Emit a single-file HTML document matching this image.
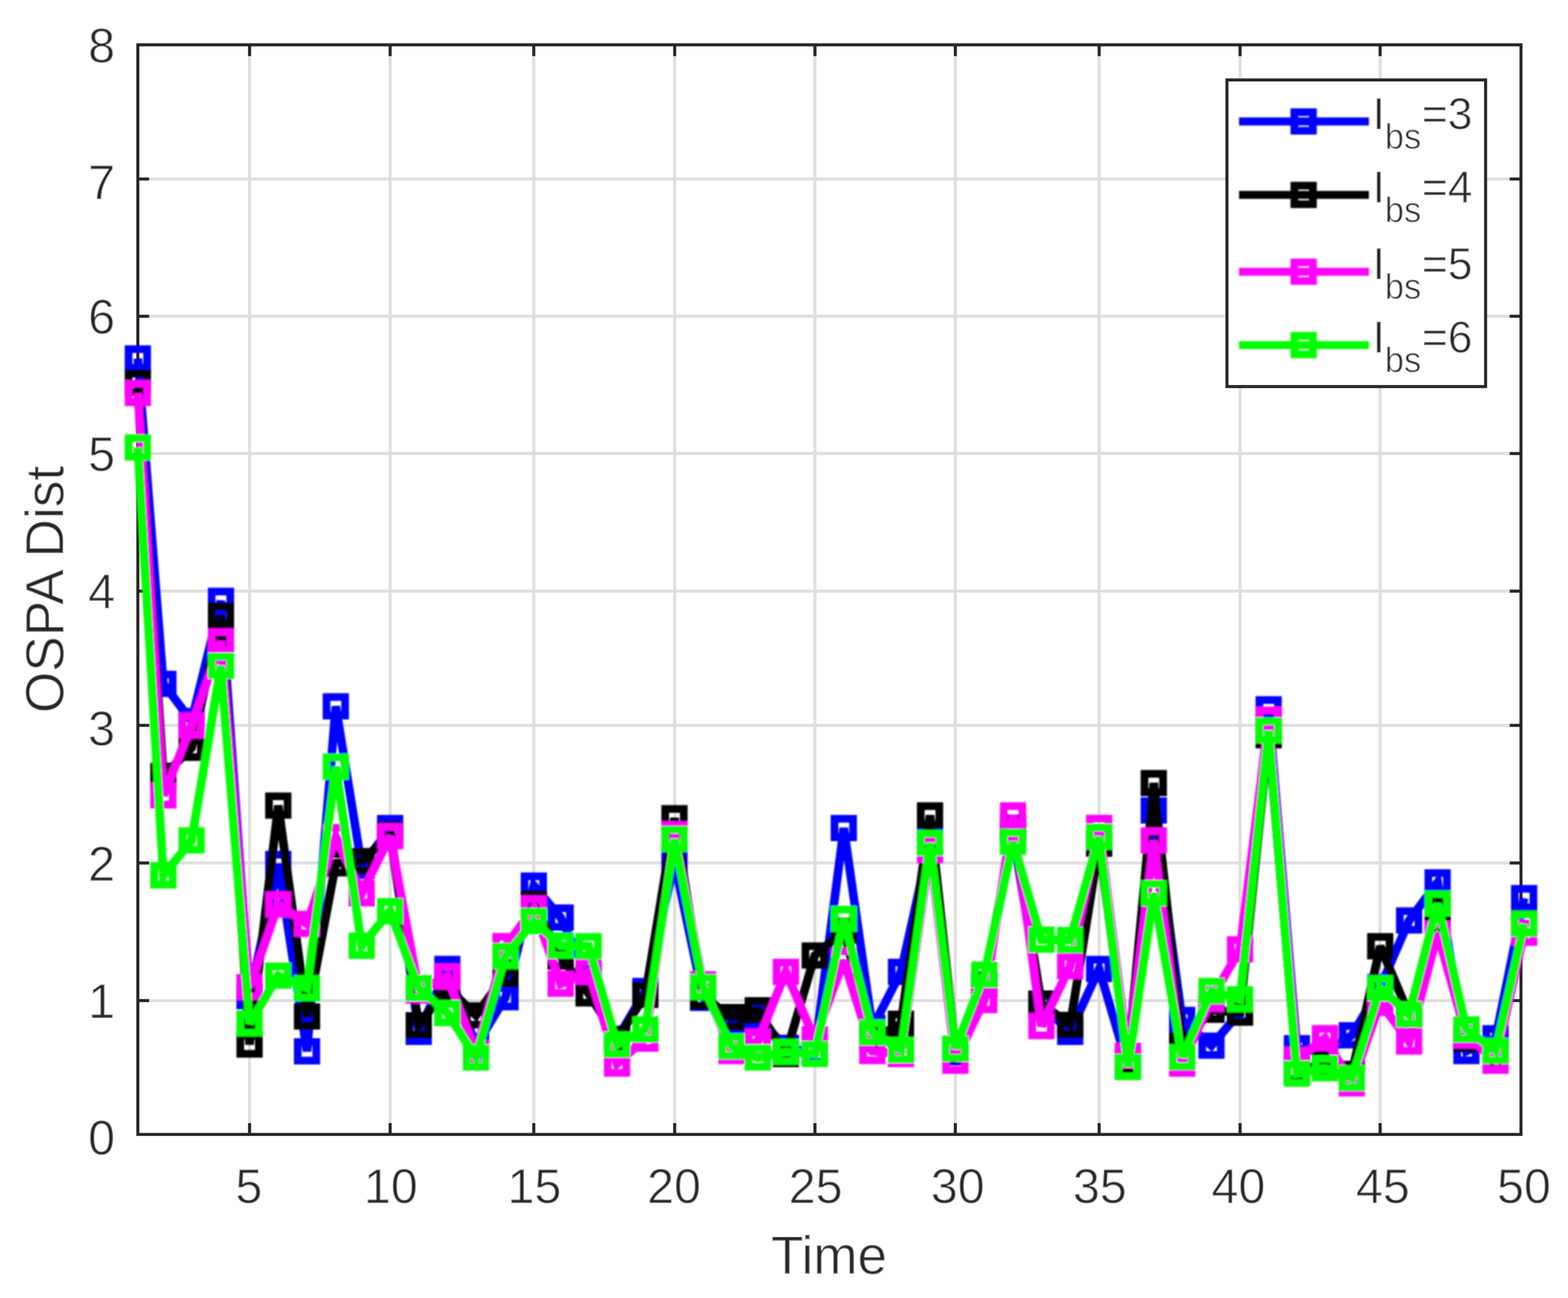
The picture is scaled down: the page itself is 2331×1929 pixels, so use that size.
<!DOCTYPE html>
<html lang="en"><head><meta charset="utf-8"><title>OSPA Dist vs Time</title>
<style>
html,body{margin:0;padding:0;background:#fff;}
body{width:2331px;height:1929px;overflow:hidden;}
svg{display:block;}
text{font-family:"Liberation Sans",sans-serif;fill:#262626;stroke:#ffffff;stroke-opacity:0.5;stroke-width:2.4px;stroke-linejoin:round;}
.tick{font-size:72px;}
.lab{font-size:79px;}
.leg{font-size:66px;}
.sub{font-size:51px;}
</style></head><body>
<svg width="2331" height="1929" viewBox="0 0 2331 1929">
<rect x="0" y="0" width="2331" height="1929" fill="#ffffff"/>
<defs><filter id="soft" x="0" y="0" width="2331" height="1929" filterUnits="userSpaceOnUse"><feGaussianBlur stdDeviation="0.9"/></filter></defs>
<g stroke="#dfdfdf" stroke-width="4.5" fill="none">
<line x1="371.0" y1="66.6" x2="371.0" y2="1685.9"/>
<line x1="580.0" y1="66.6" x2="580.0" y2="1685.9"/>
<line x1="793.5" y1="66.6" x2="793.5" y2="1685.9"/>
<line x1="1003.0" y1="66.6" x2="1003.0" y2="1685.9"/>
<line x1="1211.5" y1="66.6" x2="1211.5" y2="1685.9"/>
<line x1="1420.2" y1="66.6" x2="1420.2" y2="1685.9"/>
<line x1="1634.0" y1="66.6" x2="1634.0" y2="1685.9"/>
<line x1="1843.5" y1="66.6" x2="1843.5" y2="1685.9"/>
<line x1="2051.7" y1="66.6" x2="2051.7" y2="1685.9"/>
<line x1="204.9" y1="1487.0" x2="2261.1" y2="1487.0"/>
<line x1="204.9" y1="1282.5" x2="2261.1" y2="1282.5"/>
<line x1="204.9" y1="1078.0" x2="2261.1" y2="1078.0"/>
<line x1="204.9" y1="878.5" x2="2261.1" y2="878.5"/>
<line x1="204.9" y1="674.0" x2="2261.1" y2="674.0"/>
<line x1="204.9" y1="470.0" x2="2261.1" y2="470.0"/>
<line x1="204.9" y1="266.0" x2="2261.1" y2="266.0"/>
</g>
<g stroke="#262626" stroke-width="4.5" fill="none" stroke-linecap="butt">
<line x1="371.0" y1="66.6" x2="371.0" y2="83.4"/>
<line x1="371.0" y1="1685.9" x2="371.0" y2="1669.1"/>
<line x1="580.0" y1="66.6" x2="580.0" y2="83.4"/>
<line x1="580.0" y1="1685.9" x2="580.0" y2="1669.1"/>
<line x1="793.5" y1="66.6" x2="793.5" y2="83.4"/>
<line x1="793.5" y1="1685.9" x2="793.5" y2="1669.1"/>
<line x1="1003.0" y1="66.6" x2="1003.0" y2="83.4"/>
<line x1="1003.0" y1="1685.9" x2="1003.0" y2="1669.1"/>
<line x1="1211.5" y1="66.6" x2="1211.5" y2="83.4"/>
<line x1="1211.5" y1="1685.9" x2="1211.5" y2="1669.1"/>
<line x1="1420.2" y1="66.6" x2="1420.2" y2="83.4"/>
<line x1="1420.2" y1="1685.9" x2="1420.2" y2="1669.1"/>
<line x1="1634.0" y1="66.6" x2="1634.0" y2="83.4"/>
<line x1="1634.0" y1="1685.9" x2="1634.0" y2="1669.1"/>
<line x1="1843.5" y1="66.6" x2="1843.5" y2="83.4"/>
<line x1="1843.5" y1="1685.9" x2="1843.5" y2="1669.1"/>
<line x1="2051.7" y1="66.6" x2="2051.7" y2="83.4"/>
<line x1="2051.7" y1="1685.9" x2="2051.7" y2="1669.1"/>
<line x1="204.9" y1="1487.0" x2="221.7" y2="1487.0"/>
<line x1="2261.1" y1="1487.0" x2="2244.3" y2="1487.0"/>
<line x1="204.9" y1="1282.5" x2="221.7" y2="1282.5"/>
<line x1="2261.1" y1="1282.5" x2="2244.3" y2="1282.5"/>
<line x1="204.9" y1="1078.0" x2="221.7" y2="1078.0"/>
<line x1="2261.1" y1="1078.0" x2="2244.3" y2="1078.0"/>
<line x1="204.9" y1="878.5" x2="221.7" y2="878.5"/>
<line x1="2261.1" y1="878.5" x2="2244.3" y2="878.5"/>
<line x1="204.9" y1="674.0" x2="221.7" y2="674.0"/>
<line x1="2261.1" y1="674.0" x2="2244.3" y2="674.0"/>
<line x1="204.9" y1="470.0" x2="221.7" y2="470.0"/>
<line x1="2261.1" y1="470.0" x2="2244.3" y2="470.0"/>
<line x1="204.9" y1="266.0" x2="221.7" y2="266.0"/>
<line x1="2261.1" y1="266.0" x2="2244.3" y2="266.0"/>
<rect x="204.9" y="66.6" width="2056.2" height="1619.3"/>
</g>
<g filter="url(#soft)">
<g stroke="#0000ff" stroke-width="12.8" fill="none" stroke-linejoin="miter" stroke-miterlimit="3">
<polyline points="204.9,532.7 242.9,1016.3 284.8,1071.5 328.5,892.9 371.0,1480.6 413.7,1284.0 456.4,1562.4 499.2,1049.7 537.7,1287.0 580.0,1230.6 622.5,1533.5 665.0,1440.0 707.7,1554.4 751.5,1482.0 793.6,1316.1 833.5,1363.6 875.0,1453.0 917.3,1544.0 959.4,1472.8 1002.7,1281.0 1045.3,1483.0 1087.5,1516.0 1126.5,1510.6 1168.3,1557.2 1211.2,1564.0 1254.4,1230.6 1296.9,1527.5 1339.4,1444.3 1382.6,1250.0 1420.3,1564.0 1463.2,1463.0 1506.0,1240.0 1548.2,1494.0 1591.0,1533.5 1634.0,1440.0 1676.8,1585.0 1715.2,1204.5 1757.4,1515.7 1801.0,1554.0 1843.4,1504.0 1886.0,1054.1 1928.0,1557.8 1969.7,1565.0 2009.6,1538.6 2051.9,1467.0 2094.8,1367.9 2137.2,1311.3 2180.0,1562.0 2223.3,1543.0 2265.8,1334.7"/>
<g stroke-width="11.4">
<rect x="191.1" y="518.9" width="27.6" height="27.6"/>
<rect x="229.1" y="1002.5" width="27.6" height="27.6"/>
<rect x="271.0" y="1057.7" width="27.6" height="27.6"/>
<rect x="314.7" y="879.1" width="27.6" height="27.6"/>
<rect x="357.2" y="1466.8" width="27.6" height="27.6"/>
<rect x="399.9" y="1270.2" width="27.6" height="27.6"/>
<rect x="442.6" y="1548.6" width="27.6" height="27.6"/>
<rect x="485.4" y="1035.9" width="27.6" height="27.6"/>
<rect x="523.9" y="1273.2" width="27.6" height="27.6"/>
<rect x="566.2" y="1216.8" width="27.6" height="27.6"/>
<rect x="608.7" y="1519.7" width="27.6" height="27.6"/>
<rect x="651.2" y="1426.2" width="27.6" height="27.6"/>
<rect x="693.9" y="1540.6" width="27.6" height="27.6"/>
<rect x="737.7" y="1468.2" width="27.6" height="27.6"/>
<rect x="779.8" y="1302.3" width="27.6" height="27.6"/>
<rect x="819.7" y="1349.8" width="27.6" height="27.6"/>
<rect x="861.2" y="1439.2" width="27.6" height="27.6"/>
<rect x="903.5" y="1530.2" width="27.6" height="27.6"/>
<rect x="945.6" y="1459.0" width="27.6" height="27.6"/>
<rect x="988.9" y="1267.2" width="27.6" height="27.6"/>
<rect x="1031.5" y="1469.2" width="27.6" height="27.6"/>
<rect x="1073.7" y="1502.2" width="27.6" height="27.6"/>
<rect x="1112.7" y="1496.8" width="27.6" height="27.6"/>
<rect x="1154.5" y="1543.4" width="27.6" height="27.6"/>
<rect x="1197.4" y="1550.2" width="27.6" height="27.6"/>
<rect x="1240.6" y="1216.8" width="27.6" height="27.6"/>
<rect x="1283.1" y="1513.7" width="27.6" height="27.6"/>
<rect x="1325.6" y="1430.5" width="27.6" height="27.6"/>
<rect x="1368.8" y="1236.2" width="27.6" height="27.6"/>
<rect x="1406.5" y="1550.2" width="27.6" height="27.6"/>
<rect x="1449.4" y="1449.2" width="27.6" height="27.6"/>
<rect x="1492.2" y="1226.2" width="27.6" height="27.6"/>
<rect x="1534.4" y="1480.2" width="27.6" height="27.6"/>
<rect x="1577.2" y="1519.7" width="27.6" height="27.6"/>
<rect x="1620.2" y="1426.2" width="27.6" height="27.6"/>
<rect x="1663.0" y="1571.2" width="27.6" height="27.6"/>
<rect x="1701.4" y="1190.7" width="27.6" height="27.6"/>
<rect x="1743.6" y="1501.9" width="27.6" height="27.6"/>
<rect x="1787.2" y="1540.2" width="27.6" height="27.6"/>
<rect x="1829.6" y="1490.2" width="27.6" height="27.6"/>
<rect x="1872.2" y="1040.3" width="27.6" height="27.6"/>
<rect x="1914.2" y="1544.0" width="27.6" height="27.6"/>
<rect x="1955.9" y="1551.2" width="27.6" height="27.6"/>
<rect x="1995.8" y="1524.8" width="27.6" height="27.6"/>
<rect x="2038.1" y="1453.2" width="27.6" height="27.6"/>
<rect x="2081.0" y="1354.1" width="27.6" height="27.6"/>
<rect x="2123.4" y="1297.5" width="27.6" height="27.6"/>
<rect x="2166.2" y="1548.2" width="27.6" height="27.6"/>
<rect x="2209.5" y="1529.2" width="27.6" height="27.6"/>
<rect x="2252.0" y="1320.9" width="27.6" height="27.6"/>
</g>
</g>
<g stroke="#000000" stroke-width="12.8" fill="none" stroke-linejoin="miter" stroke-miterlimit="3">
<polyline points="204.9,569.0 242.9,1153.0 284.8,1111.3 328.5,915.0 371.0,1552.3 413.7,1197.2 456.4,1510.6 499.2,1283.0 537.7,1279.8 580.0,1240.0 622.5,1523.7 665.0,1467.0 707.7,1509.0 751.5,1447.4 793.6,1342.7 833.5,1421.7 875.0,1476.3 917.3,1544.0 959.4,1478.6 1002.7,1216.0 1045.3,1481.1 1087.5,1511.5 1126.5,1501.4 1168.3,1566.4 1211.2,1420.0 1254.4,1383.0 1296.9,1544.0 1339.4,1521.5 1382.6,1211.8 1420.3,1560.0 1463.2,1463.0 1506.0,1230.0 1548.2,1491.4 1591.0,1523.2 1634.0,1253.8 1676.8,1575.0 1715.2,1163.8 1757.4,1554.0 1801.0,1500.6 1843.4,1504.9 1886.0,1092.7 1928.0,1590.0 1969.7,1582.0 2009.6,1596.0 2051.9,1406.2 2094.8,1508.0 2137.2,1352.0 2180.0,1544.0 2223.3,1565.0 2265.8,1372.0"/>
<g stroke-width="11.4">
<rect x="191.1" y="555.2" width="27.6" height="27.6"/>
<rect x="229.1" y="1139.2" width="27.6" height="27.6"/>
<rect x="271.0" y="1097.5" width="27.6" height="27.6"/>
<rect x="314.7" y="901.2" width="27.6" height="27.6"/>
<rect x="357.2" y="1538.5" width="27.6" height="27.6"/>
<rect x="399.9" y="1183.4" width="27.6" height="27.6"/>
<rect x="442.6" y="1496.8" width="27.6" height="27.6"/>
<rect x="485.4" y="1269.2" width="27.6" height="27.6"/>
<rect x="523.9" y="1266.0" width="27.6" height="27.6"/>
<rect x="566.2" y="1226.2" width="27.6" height="27.6"/>
<rect x="608.7" y="1509.9" width="27.6" height="27.6"/>
<rect x="651.2" y="1453.2" width="27.6" height="27.6"/>
<rect x="693.9" y="1495.2" width="27.6" height="27.6"/>
<rect x="737.7" y="1433.6" width="27.6" height="27.6"/>
<rect x="779.8" y="1328.9" width="27.6" height="27.6"/>
<rect x="819.7" y="1407.9" width="27.6" height="27.6"/>
<rect x="861.2" y="1462.5" width="27.6" height="27.6"/>
<rect x="903.5" y="1530.2" width="27.6" height="27.6"/>
<rect x="945.6" y="1464.8" width="27.6" height="27.6"/>
<rect x="988.9" y="1202.2" width="27.6" height="27.6"/>
<rect x="1031.5" y="1467.3" width="27.6" height="27.6"/>
<rect x="1073.7" y="1497.7" width="27.6" height="27.6"/>
<rect x="1112.7" y="1487.6" width="27.6" height="27.6"/>
<rect x="1154.5" y="1552.6" width="27.6" height="27.6"/>
<rect x="1197.4" y="1406.2" width="27.6" height="27.6"/>
<rect x="1240.6" y="1369.2" width="27.6" height="27.6"/>
<rect x="1283.1" y="1530.2" width="27.6" height="27.6"/>
<rect x="1325.6" y="1507.7" width="27.6" height="27.6"/>
<rect x="1368.8" y="1198.0" width="27.6" height="27.6"/>
<rect x="1406.5" y="1546.2" width="27.6" height="27.6"/>
<rect x="1449.4" y="1449.2" width="27.6" height="27.6"/>
<rect x="1492.2" y="1216.2" width="27.6" height="27.6"/>
<rect x="1534.4" y="1477.6" width="27.6" height="27.6"/>
<rect x="1577.2" y="1509.4" width="27.6" height="27.6"/>
<rect x="1620.2" y="1240.0" width="27.6" height="27.6"/>
<rect x="1663.0" y="1561.2" width="27.6" height="27.6"/>
<rect x="1701.4" y="1150.0" width="27.6" height="27.6"/>
<rect x="1743.6" y="1540.2" width="27.6" height="27.6"/>
<rect x="1787.2" y="1486.8" width="27.6" height="27.6"/>
<rect x="1829.6" y="1491.1" width="27.6" height="27.6"/>
<rect x="1872.2" y="1078.9" width="27.6" height="27.6"/>
<rect x="1914.2" y="1576.2" width="27.6" height="27.6"/>
<rect x="1955.9" y="1568.2" width="27.6" height="27.6"/>
<rect x="1995.8" y="1582.2" width="27.6" height="27.6"/>
<rect x="2038.1" y="1392.4" width="27.6" height="27.6"/>
<rect x="2081.0" y="1494.2" width="27.6" height="27.6"/>
<rect x="2123.4" y="1338.2" width="27.6" height="27.6"/>
<rect x="2166.2" y="1530.2" width="27.6" height="27.6"/>
<rect x="2209.5" y="1551.2" width="27.6" height="27.6"/>
<rect x="2252.0" y="1358.2" width="27.6" height="27.6"/>
</g>
</g>
<g stroke="#ff00ff" stroke-width="12.8" fill="none" stroke-linejoin="miter" stroke-miterlimit="3">
<polyline points="204.9,584.0 242.9,1182.0 284.8,1078.2 328.5,953.1 371.0,1467.0 413.7,1344.2 456.4,1373.0 499.2,1244.0 537.7,1327.6 580.0,1242.7 622.5,1472.0 665.0,1451.4 707.7,1565.0 751.5,1406.0 793.6,1349.9 833.5,1462.0 875.0,1444.3 917.3,1580.7 959.4,1543.5 1002.7,1239.8 1045.3,1462.8 1087.5,1562.0 1126.5,1548.0 1168.3,1444.3 1211.2,1544.6 1254.4,1427.4 1296.9,1562.0 1339.4,1566.4 1382.6,1263.2 1420.3,1576.4 1463.2,1486.3 1506.0,1211.8 1548.2,1524.9 1591.0,1435.7 1634.0,1230.4 1676.8,1569.0 1715.2,1249.0 1757.4,1580.7 1801.0,1484.6 1843.4,1410.8 1886.0,1069.6 1928.0,1575.0 1969.7,1542.9 2009.6,1610.0 2051.9,1490.3 2094.8,1547.8 2137.2,1387.3 2180.0,1539.0 2223.3,1576.4 2265.8,1386.2"/>
<g stroke-width="11.4">
<rect x="191.1" y="570.2" width="27.6" height="27.6"/>
<rect x="229.1" y="1168.2" width="27.6" height="27.6"/>
<rect x="271.0" y="1064.4" width="27.6" height="27.6"/>
<rect x="314.7" y="939.3" width="27.6" height="27.6"/>
<rect x="357.2" y="1453.2" width="27.6" height="27.6"/>
<rect x="399.9" y="1330.4" width="27.6" height="27.6"/>
<rect x="442.6" y="1359.2" width="27.6" height="27.6"/>
<rect x="485.4" y="1230.2" width="27.6" height="27.6"/>
<rect x="523.9" y="1313.8" width="27.6" height="27.6"/>
<rect x="566.2" y="1228.9" width="27.6" height="27.6"/>
<rect x="608.7" y="1458.2" width="27.6" height="27.6"/>
<rect x="651.2" y="1437.6" width="27.6" height="27.6"/>
<rect x="693.9" y="1551.2" width="27.6" height="27.6"/>
<rect x="737.7" y="1392.2" width="27.6" height="27.6"/>
<rect x="779.8" y="1336.1" width="27.6" height="27.6"/>
<rect x="819.7" y="1448.2" width="27.6" height="27.6"/>
<rect x="861.2" y="1430.5" width="27.6" height="27.6"/>
<rect x="903.5" y="1566.9" width="27.6" height="27.6"/>
<rect x="945.6" y="1529.7" width="27.6" height="27.6"/>
<rect x="988.9" y="1226.0" width="27.6" height="27.6"/>
<rect x="1031.5" y="1449.0" width="27.6" height="27.6"/>
<rect x="1073.7" y="1548.2" width="27.6" height="27.6"/>
<rect x="1112.7" y="1534.2" width="27.6" height="27.6"/>
<rect x="1154.5" y="1430.5" width="27.6" height="27.6"/>
<rect x="1197.4" y="1530.8" width="27.6" height="27.6"/>
<rect x="1240.6" y="1413.6" width="27.6" height="27.6"/>
<rect x="1283.1" y="1548.2" width="27.6" height="27.6"/>
<rect x="1325.6" y="1552.6" width="27.6" height="27.6"/>
<rect x="1368.8" y="1249.4" width="27.6" height="27.6"/>
<rect x="1406.5" y="1562.6" width="27.6" height="27.6"/>
<rect x="1449.4" y="1472.5" width="27.6" height="27.6"/>
<rect x="1492.2" y="1198.0" width="27.6" height="27.6"/>
<rect x="1534.4" y="1511.1" width="27.6" height="27.6"/>
<rect x="1577.2" y="1421.9" width="27.6" height="27.6"/>
<rect x="1620.2" y="1216.6" width="27.6" height="27.6"/>
<rect x="1663.0" y="1555.2" width="27.6" height="27.6"/>
<rect x="1701.4" y="1235.2" width="27.6" height="27.6"/>
<rect x="1743.6" y="1566.9" width="27.6" height="27.6"/>
<rect x="1787.2" y="1470.8" width="27.6" height="27.6"/>
<rect x="1829.6" y="1397.0" width="27.6" height="27.6"/>
<rect x="1872.2" y="1055.8" width="27.6" height="27.6"/>
<rect x="1914.2" y="1561.2" width="27.6" height="27.6"/>
<rect x="1955.9" y="1529.1" width="27.6" height="27.6"/>
<rect x="1995.8" y="1596.2" width="27.6" height="27.6"/>
<rect x="2038.1" y="1476.5" width="27.6" height="27.6"/>
<rect x="2081.0" y="1534.0" width="27.6" height="27.6"/>
<rect x="2123.4" y="1373.5" width="27.6" height="27.6"/>
<rect x="2166.2" y="1525.2" width="27.6" height="27.6"/>
<rect x="2209.5" y="1562.6" width="27.6" height="27.6"/>
<rect x="2252.0" y="1372.4" width="27.6" height="27.6"/>
</g>
</g>
<g stroke="#00ff00" stroke-width="12.8" fill="none" stroke-linejoin="miter" stroke-miterlimit="3">
<polyline points="204.9,665.0 242.9,1301.0 284.8,1249.0 328.5,989.5 371.0,1521.0 413.7,1450.0 456.4,1468.6 499.2,1139.4 537.7,1405.5 580.0,1354.2 622.5,1468.6 665.0,1505.5 707.7,1571.5 751.5,1421.0 793.6,1368.8 833.5,1405.4 875.0,1406.2 917.3,1552.3 959.4,1529.8 1002.7,1247.0 1045.3,1467.1 1087.5,1555.0 1126.5,1571.5 1168.3,1563.2 1211.2,1566.4 1254.4,1365.6 1296.9,1534.3 1339.4,1560.6 1382.6,1252.7 1420.3,1558.4 1463.2,1448.5 1506.0,1251.2 1548.2,1396.5 1591.0,1397.0 1634.0,1243.6 1676.8,1585.8 1715.2,1327.3 1757.4,1571.0 1801.0,1472.8 1843.4,1485.1 1886.0,1085.6 1928.0,1595.5 1969.7,1587.5 2009.6,1602.1 2051.9,1468.6 2094.8,1507.4 2137.2,1342.7 2180.0,1530.0 2223.3,1561.8 2265.8,1372.8"/>
<g stroke-width="11.4">
<rect x="191.1" y="651.2" width="27.6" height="27.6"/>
<rect x="229.1" y="1287.2" width="27.6" height="27.6"/>
<rect x="271.0" y="1235.2" width="27.6" height="27.6"/>
<rect x="314.7" y="975.7" width="27.6" height="27.6"/>
<rect x="357.2" y="1507.2" width="27.6" height="27.6"/>
<rect x="399.9" y="1436.2" width="27.6" height="27.6"/>
<rect x="442.6" y="1454.8" width="27.6" height="27.6"/>
<rect x="485.4" y="1125.6" width="27.6" height="27.6"/>
<rect x="523.9" y="1391.7" width="27.6" height="27.6"/>
<rect x="566.2" y="1340.4" width="27.6" height="27.6"/>
<rect x="608.7" y="1454.8" width="27.6" height="27.6"/>
<rect x="651.2" y="1491.7" width="27.6" height="27.6"/>
<rect x="693.9" y="1557.7" width="27.6" height="27.6"/>
<rect x="737.7" y="1407.2" width="27.6" height="27.6"/>
<rect x="779.8" y="1355.0" width="27.6" height="27.6"/>
<rect x="819.7" y="1391.6" width="27.6" height="27.6"/>
<rect x="861.2" y="1392.4" width="27.6" height="27.6"/>
<rect x="903.5" y="1538.5" width="27.6" height="27.6"/>
<rect x="945.6" y="1516.0" width="27.6" height="27.6"/>
<rect x="988.9" y="1233.2" width="27.6" height="27.6"/>
<rect x="1031.5" y="1453.3" width="27.6" height="27.6"/>
<rect x="1073.7" y="1541.2" width="27.6" height="27.6"/>
<rect x="1112.7" y="1557.7" width="27.6" height="27.6"/>
<rect x="1154.5" y="1549.4" width="27.6" height="27.6"/>
<rect x="1197.4" y="1552.6" width="27.6" height="27.6"/>
<rect x="1240.6" y="1351.8" width="27.6" height="27.6"/>
<rect x="1283.1" y="1520.5" width="27.6" height="27.6"/>
<rect x="1325.6" y="1546.8" width="27.6" height="27.6"/>
<rect x="1368.8" y="1238.9" width="27.6" height="27.6"/>
<rect x="1406.5" y="1544.6" width="27.6" height="27.6"/>
<rect x="1449.4" y="1434.7" width="27.6" height="27.6"/>
<rect x="1492.2" y="1237.4" width="27.6" height="27.6"/>
<rect x="1534.4" y="1382.7" width="27.6" height="27.6"/>
<rect x="1577.2" y="1383.2" width="27.6" height="27.6"/>
<rect x="1620.2" y="1229.8" width="27.6" height="27.6"/>
<rect x="1663.0" y="1572.0" width="27.6" height="27.6"/>
<rect x="1701.4" y="1313.5" width="27.6" height="27.6"/>
<rect x="1743.6" y="1557.2" width="27.6" height="27.6"/>
<rect x="1787.2" y="1459.0" width="27.6" height="27.6"/>
<rect x="1829.6" y="1471.3" width="27.6" height="27.6"/>
<rect x="1872.2" y="1071.8" width="27.6" height="27.6"/>
<rect x="1914.2" y="1581.7" width="27.6" height="27.6"/>
<rect x="1955.9" y="1573.7" width="27.6" height="27.6"/>
<rect x="1995.8" y="1588.3" width="27.6" height="27.6"/>
<rect x="2038.1" y="1454.8" width="27.6" height="27.6"/>
<rect x="2081.0" y="1493.6" width="27.6" height="27.6"/>
<rect x="2123.4" y="1328.9" width="27.6" height="27.6"/>
<rect x="2166.2" y="1516.2" width="27.6" height="27.6"/>
<rect x="2209.5" y="1548.0" width="27.6" height="27.6"/>
<rect x="2252.0" y="1359.0" width="27.6" height="27.6"/>
</g>
</g>
</g>
<g class="tick" text-anchor="middle">
<text x="370.0" y="1787.5">5</text>
<text x="581.0" y="1787.5">10</text>
<text x="794.5" y="1787.5">15</text>
<text x="1002.0" y="1787.5">20</text>
<text x="1212.5" y="1787.5">25</text>
<text x="1423.7" y="1787.5">30</text>
<text x="1635.0" y="1787.5">35</text>
<text x="1841.0" y="1787.5">40</text>
<text x="2055.7" y="1787.5">45</text>
<text x="2265.5" y="1787.5">50</text>
</g>
<g class="tick" text-anchor="end">
<text x="171" y="1715.9">0</text>
<text x="171" y="1513.0">1</text>
<text x="171" y="1308.5">2</text>
<text x="171" y="1107.5">3</text>
<text x="171" y="903.5">4</text>
<text x="171" y="700.0">5</text>
<text x="171" y="496.0">6</text>
<text x="171" y="295.6">7</text>
<text x="171" y="92.6">8</text>
</g>
<text class="lab" text-anchor="middle" x="1232.5" y="1892.5">Time</text>
<text class="lab" text-anchor="middle" transform="translate(94,876) rotate(-90)">OSPA Dist</text>
<rect x="1824" y="118.8" width="384.5" height="455.7" fill="#ffffff" stroke="#262626" stroke-width="4.5"/>
<g stroke="#0000ff" stroke-width="11.8" fill="none" filter="url(#soft)">
<line x1="1842" y1="180.5" x2="2035" y2="180.5"/>
<rect x="1924.2" y="166.7" width="27.6" height="27.6" stroke-width="11.4"/>
</g>
<text class="leg" x="2040.5" y="192.0">I<tspan class="sub" dy="29">bs</tspan><tspan dy="-29" dx="1">=3</tspan></text>
<g stroke="#000000" stroke-width="11.8" fill="none" filter="url(#soft)">
<line x1="1842" y1="289.7" x2="2035" y2="289.7"/>
<rect x="1924.2" y="275.9" width="27.6" height="27.6" stroke-width="11.4"/>
</g>
<text class="leg" x="2040.5" y="301.2">I<tspan class="sub" dy="29">bs</tspan><tspan dy="-29" dx="1">=4</tspan></text>
<g stroke="#ff00ff" stroke-width="11.8" fill="none" filter="url(#soft)">
<line x1="1842" y1="403.8" x2="2035" y2="403.8"/>
<rect x="1924.2" y="390.0" width="27.6" height="27.6" stroke-width="11.4"/>
</g>
<text class="leg" x="2040.5" y="415.3">I<tspan class="sub" dy="29">bs</tspan><tspan dy="-29" dx="1">=5</tspan></text>
<g stroke="#00ff00" stroke-width="11.8" fill="none" filter="url(#soft)">
<line x1="1842" y1="512.9" x2="2035" y2="512.9"/>
<rect x="1924.2" y="499.1" width="27.6" height="27.6" stroke-width="11.4"/>
</g>
<text class="leg" x="2040.5" y="524.4">I<tspan class="sub" dy="29">bs</tspan><tspan dy="-29" dx="1">=6</tspan></text>
</svg>
</body></html>
